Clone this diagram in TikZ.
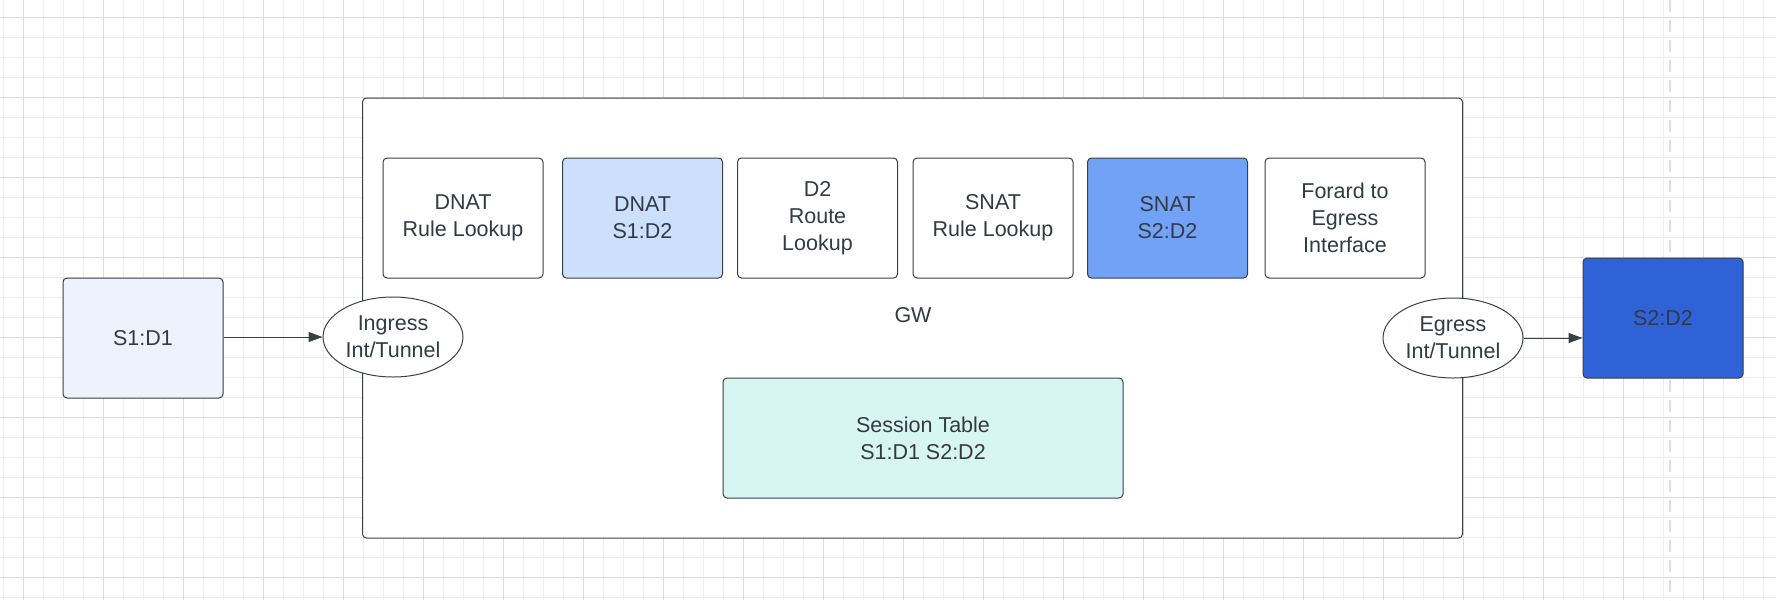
\documentclass[tikz,border=0pt]{standalone}
\usepackage{fontspec}
\setmainfont{Liberation Sans}
\usetikzlibrary{arrows.meta,shapes.geometric}
\definecolor{txt}{HTML}{333A45}
\definecolor{edge}{HTML}{3A3F47}
\definecolor{cA}{HTML}{EDF2FD}
\definecolor{cB}{HTML}{CCDFFC}
\definecolor{cC}{HTML}{71A2F5}
\definecolor{cD}{HTML}{2F62D6}
\definecolor{cE}{HTML}{D7F6F1}
\definecolor{gmin}{HTML}{EDEDED}
\definecolor{gmaj}{HTML}{DCDCDC}
\tikzset{
  every node/.style={font=\fontsize{21.5}{27}\selectfont, text=txt, align=center},
  box/.style={draw=edge, line width=1pt, rounded corners=4pt, minimum width=160pt, minimum height=120pt, inner sep=0pt},
  port/.style={ellipse, draw=edge, fill=white, line width=1pt, minimum width=140pt, minimum height=80pt, inner sep=0pt},
  conn/.style={draw=edge, line width=1pt, -{Triangle[length=14pt,width=10pt]}}
}
\begin{document}
\begin{tikzpicture}[x=1pt,y=-1pt]
\useasboundingbox (0,0) rectangle (1776,600);
\fill[white] (0,0) rectangle (1776,600);
\foreach \x in {3.3,23.3,...,1776} \draw[gmin,line width=0.8pt] (\x,0) -- (\x,600);
\foreach \y in {17.3,37.3,...,600} \draw[gmin,line width=0.8pt] (0,\y) -- (1776,\y);
\foreach \x in {23.3,103.3,...,1776} \draw[gmaj,line width=0.9pt] (\x,0) -- (\x,600);
\foreach \y in {17.3,97.3,...,600} \draw[gmaj,line width=0.9pt] (0,\y) -- (1776,\y);
\draw[gmaj,line width=2.5pt,dash pattern=on 12pt off 8pt] (1670,0) -- (1670,600);
\node[draw=edge,fill=white,line width=1pt,rounded corners=4pt,minimum width=1100pt,minimum height=440pt] (gw) at (912.5,318) {};
\node (gwl) at (913,315) {GW};
\node[box,fill=white] (b1) at (463,218) {DNAT\\Rule Lookup};
\node[box,fill=cB] (b2) at (642.5,218) {DNAT\\S1:D2};
\node[box,fill=white] (b3) at (817.5,218) {D2\\Route\\Lookup};
\node[box,fill=white] (b4) at (993,218) {SNAT\\Rule Lookup};
\node[box,fill=cC] (b5) at (1167.5,218) {SNAT\\S2:D2};
\node[box,fill=white] (b6) at (1345,218) {Forard to\\Egress\\Interface};
\node[box,fill=cE,minimum width=400pt] (st) at (923,438) {Session Table\\S1:D1 S2:D2};
\node[box,fill=cA] (s1) at (143,338) {S1:D1};
\node[box,fill=cD] (s2) at (1663,318) {S2:D2};
\node[port] (ing) at (393,337) {Ingress\\Int/Tunnel};
\node[port] (eg) at (1453,338) {Egress\\Int/Tunnel};
\draw[conn] (s1.east |- ing) -- (ing.west);
\draw[conn] (eg.east) -- (eg.east -| s2.west);
\end{tikzpicture}
\end{document}
